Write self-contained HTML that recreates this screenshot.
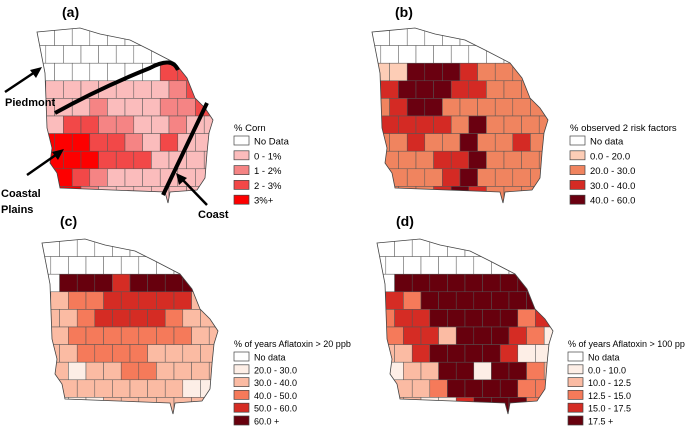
<!DOCTYPE html>
<html><head><meta charset="utf-8">
<style>
body{margin:0;background:#fff;width:685px;height:431px;overflow:hidden;font-family:"Liberation Sans",sans-serif}
svg{position:absolute;left:0;top:0}
text{font-family:"Liberation Sans",sans-serif}
</style></head>
<body>
<svg id="s" width="685" height="431" viewBox="0 0 685 431">
<defs>
<clipPath id="ga"><path id="gaPath" d="M0,4 L43,0 L63,6 L93,12 L113,22 L138,35 L150,50 L158,70 L168,80 L176,92 L172,105 L170,125 L168,150 L160,162 L133,164 L131,175 L128,164 L23,160 L20,145 L13,135 L15,120 L10,100 L8,45 Z"/></clipPath>
</defs>
<g id="maps"></g>
<text x="62" y="17" font-size="14" font-weight="bold">(a)</text>
<text x="395" y="17" font-size="14" font-weight="bold">(b)</text>
<text x="60" y="226" font-size="14" font-weight="bold">(c)</text>
<text x="396" y="226" font-size="14" font-weight="bold">(d)</text>
<g stroke="#000" fill="none">
<path d="M55,113 Q100,88 150,68 Q172,56 178,70" stroke-width="4"/>
<path d="M207,103 L163,195" stroke-width="4"/>
<path d="M5,92 L38,70" stroke-width="2.5"/>
<path d="M27,175 L60,152" stroke-width="2.5"/>
<path d="M207,205 L180,177" stroke-width="2.5"/>
</g>
<g fill="#000">
<polygon points="42,67 30,70 36,78"/>
<polygon points="64,149 52,152 58,160"/>
<polygon points="176,173 179,185 187,178"/>
</g>
<text x="5" y="106" font-size="11" font-weight="bold">Piedmont</text>
<text x="1" y="197" font-size="11" font-weight="bold">Coastal</text>
<text x="1" y="213" font-size="11" font-weight="bold">Plains</text>
<text x="198" y="218" font-size="11" font-weight="bold">Coast</text>
<g id="legends"></g>
</svg>
<script>
const NS="http://www.w3.org/2000/svg";
const mapA=["0000000000","0000000000","0000000333","1111111233","1112111223","1332211211","4443321311","4443331111","4432111111","4421111111"];
const mapB=["0000000000","0000000000","1144432222","3444332222","2344222222","3333242222","2232242232","2223342222","2222342222","2223432222"];
const mapC=["0000000000","0000000000","0555455550","2334444422","2234444322","2333333322","2233332222","2122332222","1222222211","1112222222"];
const mapD=["0000000000","0000000000","0555555550","4355555553","3445555534","3442555431","2245555411","1225515532","2223555533","2211455533"];
const colA=["#ffffff","#fbbcbc","#f58484","#f24848","#fd0000"];
const colB=["#ffffff","#fdcdb6","#f0845f","#d42a24","#6a0010"];
const colCD=["#ffffff","#fdeee6","#fbbba3","#f57a5a","#d52c24","#67000d"];
const labA=["No Data","0 - 1%","1 - 2%","2 - 3%","3%+"];
const labB=["No data","0.0 - 20.0","20.0 - 30.0","30.0 - 40.0","40.0 - 60.0"];
const labC=["No data","20.0 - 30.0","30.0 - 40.0","40.0 - 50.0","50.0 - 60.0","60.0 +"];
const labD=["No data","0.0 - 10.0","10.0 - 12.5","12.5 - 15.0","15.0 - 17.5","17.5 +"];
const maps=[
 {name:"map-a",ox:37,oy:28,data:mapA,cols:colA,title:"% Corn",lx:234,ly:127,step:14.8,lab:labA,fs:9.5},
 {name:"map-b",ox:372,oy:28,data:mapB,cols:colB,title:"% observed 2 risk factors",lx:570,ly:127,step:14.8,lab:labB,fs:9.5},
 {name:"map-c",ox:42,oy:239,data:mapC,cols:colCD,title:"% of years Aflatoxin > 20 ppb",lx:234,ly:343,step:12.8,lab:labC,fs:9},
 {name:"map-d",ox:377,oy:239,data:mapD,cols:colCD,title:"% of years Aflatoxin > 100 ppb",lx:568,ly:343,step:12.8,lab:labD,fs:9}
];
const W=176,H=176,nc=10,nr=10,cw=W/nc,rh=H/nr;
const mg=document.getElementById('maps'),lg=document.getElementById('legends');
maps.forEach(m=>{
 const g=document.createElementNS(NS,'g');
 g.setAttribute('transform',`translate(${m.ox},${m.oy})`);
 
 
 const inner=document.createElementNS(NS,'g');
 inner.setAttribute('clip-path','url(#ga)');
 m.data.forEach((row,r)=>{
  const sh=(r%2)*cw/2;
  for(let c=-1;c<=nc;c++){
   const v=+row[Math.max(0,Math.min(nc-1,c))];
   const rc=document.createElementNS(NS,'rect');
   rc.setAttribute('x',c*cw+sh);rc.setAttribute('y',r*rh);
   rc.setAttribute('width',cw);rc.setAttribute('height',rh);
   rc.setAttribute('fill',m.cols[v]);rc.setAttribute('stroke','#555');rc.setAttribute('stroke-width','0.5');
   
   
   inner.appendChild(rc);
  }
 });
 g.appendChild(inner);
 const o=document.createElementNS(NS,'use');
 o.setAttribute('href','#gaPath');o.setAttribute('fill','none');o.setAttribute('stroke','#444');o.setAttribute('stroke-width','0.8');
 
 
 g.appendChild(o);
 mg.appendChild(g);
 const l=document.createElementNS(NS,'g');
 
 
 const t=document.createElementNS(NS,'text');
 t.setAttribute('x',m.lx);t.setAttribute('y',m.ly+4);t.setAttribute('font-size',m.fs);t.textContent=m.title;
 
 
 l.appendChild(t);
 m.lab.forEach((lb,i)=>{
  const y=m.ly+9+i*m.step;
  const b=document.createElementNS(NS,'rect');
  b.setAttribute('x',m.lx);b.setAttribute('y',y);b.setAttribute('width',15);b.setAttribute('height',9);
  b.setAttribute('fill',m.cols[i]);b.setAttribute('stroke','#444');b.setAttribute('stroke-width','0.7');
  
  
  l.appendChild(b);
  const tx=document.createElementNS(NS,'text');
  tx.setAttribute('x',m.lx+20);tx.setAttribute('y',y+8.5);tx.setAttribute('font-size',m.fs);tx.textContent=lb;
  
  
  l.appendChild(tx);
 });
 lg.appendChild(l);
});
</script>
</body></html>
